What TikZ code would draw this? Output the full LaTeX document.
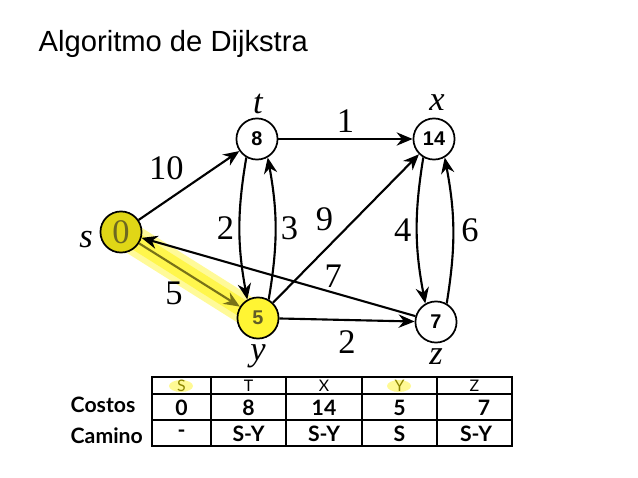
\documentclass[tikz,border=0pt]{standalone}
\usepackage{fontspec}
\setmainfont{Liberation Serif}
\newfontfamily\arial{Liberation Sans}
\newfontfamily\gothic{Lato}
\usetikzlibrary{arrows.meta}
\begin{document}
\begin{tikzpicture}[x=0.0265cm,y=-0.0265cm,
  vert/.style={circle,draw,line width=1.3pt,minimum size=31pt,inner sep=0pt,font=\arial\bfseries\fontsize{15}{16}\selectfont},
  edge/.style={-{Stealth[length=12pt,width=10pt]},line width=1.6pt},
  wlab/.style={font=\fontsize{26}{26}\selectfont},
  vlab/.style={font=\itshape\fontsize{26}{26}\selectfont},
  tcell/.style={font=\gothic\fontsize{12}{13}\selectfont},
  bcell/.style={font=\gothic\bfseries\fontsize{16}{17}\selectfont}]
\useasboundingbox (0,0) rectangle (638,478);
\node[anchor=west,font=\arial\fontsize{22}{24}\selectfont] (title) at (34,44) {Algoritmo de Dijkstra};
% highlight glow
\draw[line width=22pt,yellow!40!white,line cap=round] (121,232) -- (245,310);
\draw[line width=13pt,yellow!70!white,line cap=round] (121,232) -- (245,310);
\node[vert,fill=yellow!70!olive!90,font=\fontsize{26}{26}\selectfont,text=olive!70!black] (s) at (121,232) {0};
\node[vert] (t) at (257,139) {8};
\node[vert] (x) at (434,139) {14};
\node[vert,fill=yellow!80!white,text=olive!60!black] (y) at (258,318) {5};
\node[vert] (z) at (436,322) {7};
\node[vlab] (ls) at (86,240) {s};
\node[vlab] (lt) at (258,104) {t};
\node[vlab] (lx) at (437,103) {x};
\node[vlab] (ly) at (258,356) {y};
\node[vlab] (lz) at (436,357) {z};
\draw[edge] (s) -- node[wlab,above left=0pt] {10} (t);
\draw[edge,olive!80!black] (s) -- node[wlab,below left=1pt,text=black] {5} (y);
\draw[edge] (t) -- node[wlab,above=1pt] {1} (x);
\draw[edge] (t.240) to[bend right=10] node[wlab,left=0pt] {2} (y.120);
\draw[edge] (y.60) to[bend right=10] node[wlab,right=0pt] {3} (t.300);
\draw[edge] (y) -- node[wlab,above left=0pt,pos=0.45] {9} (x);
\draw[edge] (y) -- node[wlab,below=4pt] {2} (z);
\draw[edge] (z) -- node[wlab,above=0pt,pos=0.3] {7} (s);
\draw[edge] (x.240) to[bend right=10] node[wlab,left=0pt] {4} (z.120);
\draw[edge] (z.60) to[bend right=10] node[wlab,right=2pt] {6} (x.300);
% table
\fill[yellow!60!white,opacity=0.7] (181,386) ellipse (12 and 6);
\fill[yellow!60!white,opacity=0.7] (399,386) ellipse (12 and 6);
\draw[line width=0.9pt] (152,377) rectangle (512,446);
\foreach \xx in {211,286,362,437} \draw[line width=0.9pt] (\xx,377) -- (\xx,446);
\draw[line width=0.9pt] (152,394) -- (512,394) (152,420) -- (512,420);
\node[tcell,text=olive] (h1) at (181.5,386) {S};
\node[tcell] (h2) at (248.5,386) {T};
\node[tcell] (h3) at (324,386) {X};
\node[tcell,text=olive] (h4) at (399.5,386) {Y};
\node[tcell] (h5) at (474.5,386) {Z};
\node[bcell] (c1) at (181.5,408) {0};
\node[bcell] (c2) at (248.5,408) {8};
\node[bcell] (c3) at (324,408) {14};
\node[bcell] (c4) at (399.5,408) {5};
\node[bcell] (c5) at (484,408) {7};
\node[bcell] (p1) at (181.5,434) {-};
\node[bcell] (p2) at (248.5,434) {S-Y};
\node[bcell] (p3) at (324,434) {S-Y};
\node[bcell] (p4) at (399.5,434) {S};
\node[bcell] (p5) at (476,434) {S-Y};
\node[bcell,anchor=west] (costos) at (66,405) {Costos};
\node[bcell,anchor=west] (camino) at (66,436) {Camino};
\end{tikzpicture}
\end{document}
